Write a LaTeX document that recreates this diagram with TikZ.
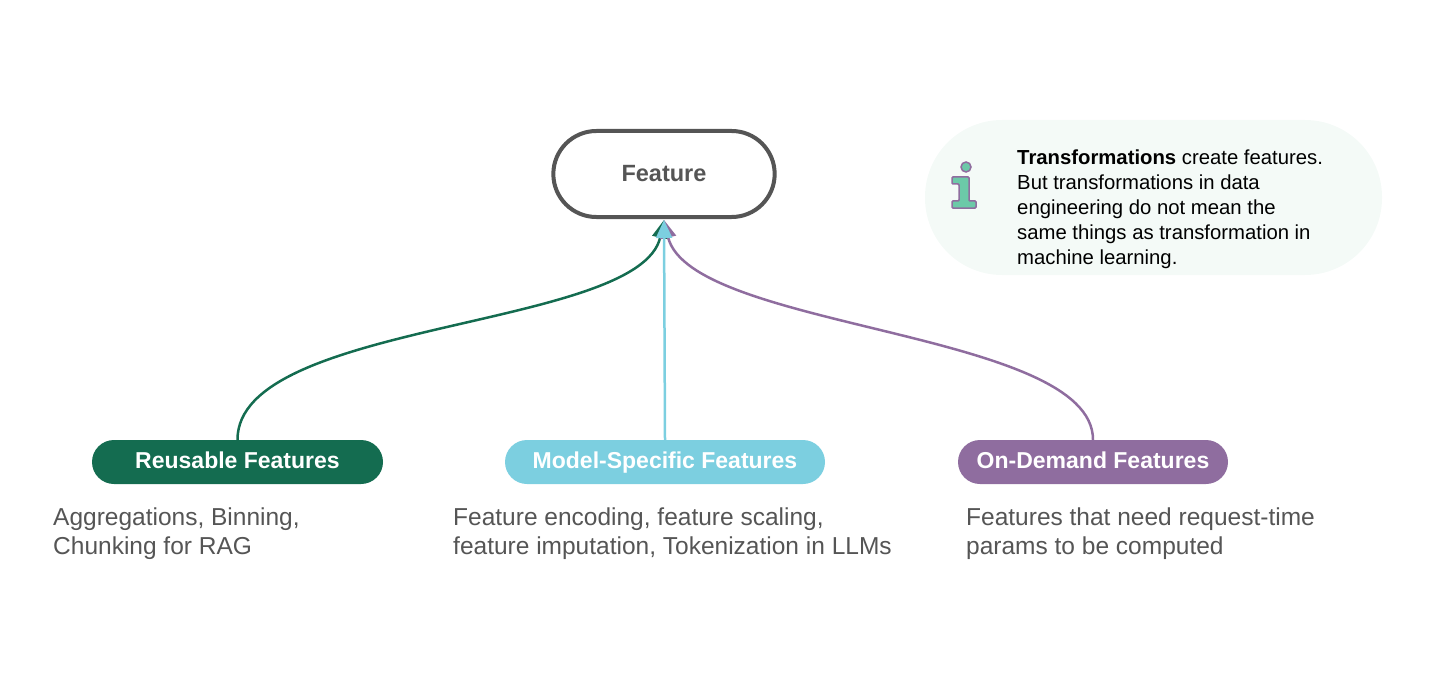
\documentclass[tikz,border=0pt]{standalone}
\usepackage{fontspec}
\setmainfont{Liberation Sans}
\usetikzlibrary{arrows.meta,shapes.misc}
\definecolor{grn}{HTML}{146C50}
\definecolor{cyn}{HTML}{7CCFE0}
\definecolor{prp}{HTML}{8F6D9F}
\definecolor{txt}{HTML}{555555}
\definecolor{infobg}{HTML}{F4FAF7}
\definecolor{ticon}{HTML}{6CC9A8}
\begin{document}
\begin{tikzpicture}[x=1pt,y=-1pt,
 pill/.style={rounded rectangle,minimum height=44pt,text=white,font=\fontsize{23}{26}\selectfont\bfseries,inner xsep=0pt,text height=16pt,text depth=4pt},
 body/.style={anchor=north west,align=left,text=txt,font=\fontsize{24.5}{29}\selectfont,inner sep=0pt},
 arr/.style={line width=2.5pt,-{Triangle[length=18pt,width=16pt]}}]
\useasboundingbox (0,0) rectangle (1434,695);
\fill[infobg,rounded corners=77pt] (925,120) rectangle (1382,275);
\node[rounded rectangle,draw=txt,line width=4pt,fill=white,minimum width=228pt,minimum height=86pt,text=txt,font=\fontsize{23.5}{26}\selectfont\bfseries] (f) at (664,174) {Feature};
\node[pill,fill=grn,minimum width=291pt] (r) at (237.5,462) {Reusable Features};
\node[pill,fill=cyn,minimum width=320pt] (m) at (665,462) {Model-Specific Features};
\node[pill,fill=prp,minimum width=270pt] (o) at (1093,462) {On-Demand Features};
\coordinate (ft) at (664,220);
\draw[arr,grn] (r.north) .. controls (237,320) and (640,330) .. (ft);
\draw[arr,prp] (o.north) .. controls (1093,330) and (690,330) .. (ft);
\draw[arr,cyn] (m.north) -- (ft);
\node[body] at (53,508) {Aggregations, Binning,\\Chunking for RAG};
\node[body] at (453,508) {Feature encoding, feature scaling,\\feature imputation, Tokenization in LLMs};
\node[body] at (966,508) {Features that need request-time\\params to be computed};
\node[anchor=north west,align=left,font=\fontsize{20.3}{25}\selectfont,inner sep=0pt] at (1017,150) {\textbf{Transformations} create features.\\But transformations in data\\engineering do not mean the\\same things as transformation in\\machine learning.};
\draw[prp,fill=ticon,line width=1.5pt] (966,167) circle (5pt);
\draw[prp,fill=ticon,line width=1.5pt,rounded corners=1pt] (952,177) -- (969,177) -- (969,201) -- (976,201) -- (976,208) -- (952,208) -- (952,201) -- (959,201) -- (959,184) -- (952,184) -- cycle;
\end{tikzpicture}
\end{document}
